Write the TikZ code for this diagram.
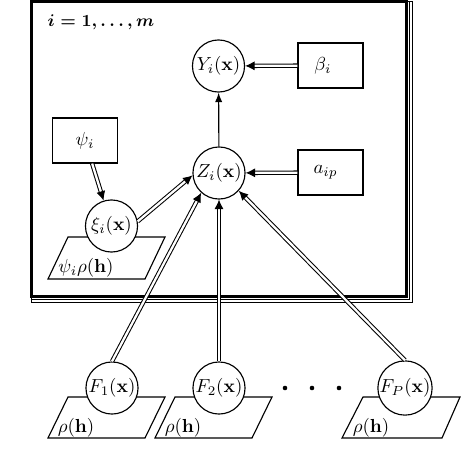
\documentclass[tikz,border=0pt]{standalone}
\usepackage{amsmath,amssymb}
\usetikzlibrary{arrows.meta}
\begin{document}
\begin{tikzpicture}[x=0.53pt,y=-0.53pt,
 every node/.style={font=\fontsize{10}{12}\selectfont},
 var/.style={circle,draw,fill=white,line width=0.6pt,minimum size=27.6pt,inner sep=0pt},
 parbox/.style={draw,line width=0.6pt,minimum width=34.5pt,minimum height=23.9pt,inner sep=0pt},
 dbl/.style={double,double distance=1.2pt,line width=0.55pt,-{Latex[length=5pt,width=4.8pt]}},
 sgl/.style={line width=0.6pt,-{Latex[length=5pt,width=3.8pt]}},
 plane/.style={draw,line width=0.6pt},
 plate/.style={draw,line width=1.2pt},
 plateedge/.style={draw,line width=0.5pt}]
\useasboundingbox (0,0) rectangle (474,470);
% plate
\draw[plate] (31.5,1.5) rectangle (406.5,296.5);
\draw[plateedge] (31.5,1.5) rectangle (409.5,299.5);
\draw[plateedge] (31.5,1.5) rectangle (412.5,302.5);
\node[font=\fontsize{9}{11}\selectfont] (plab) at (101,22) {$\boldsymbol{i=1,\ldots,m}$};
% planes
\draw[plane] (68,237) -- (165,237) -- (145,279) -- (48,279) -- cycle;
\draw[plane] (68,397) -- (165,397) -- (145,438) -- (48,438) -- cycle;
\draw[plane] (175,397) -- (272,397) -- (252,438) -- (155,438) -- cycle;
\draw[plane] (363,397) -- (460,397) -- (442,438) -- (342,438) -- cycle;
\node (l0) at (86,268) {$\psi_i\rho(\mathbf{h})$};
\node (l1) at (76,428) {$\rho(\mathbf{h})$};
\node (l2) at (183,428) {$\rho(\mathbf{h})$};
\node (l3) at (371,428) {$\rho(\mathbf{h})$};
% variables
\node[var] (Y) at (218.5,66) {$Y_i(\mathbf{x})$};
\node[var] (Z) at (219,173) {$Z_i(\mathbf{x})$};
\node[var] (xi) at (111.5,226) {$\xi_i(\mathbf{x})$};
\node[var] (F1) at (112,388) {$F_1(\mathbf{x})$};
\node[var] (F2) at (219,388) {$F_2(\mathbf{x})$};
\node[var] (FP) at (405,388) {$F_P(\mathbf{x})$};
% parameters
\node[parbox,text width=31pt,align=left] (beta) at (330.5,65.5) {\hspace{7pt}$\beta_i$};
\node[parbox] (psi) at (85,140.5) {$\psi_i$};
\node[parbox,text width=31pt,align=left] (a) at (330.5,172.5) {\hspace{6.5pt}$a_{ip}$};
% dots
\fill (285,388) circle (2.3);
\fill (312,388) circle (2.3);
\fill (339,388) circle (2.3);
% connectors
\draw[sgl] (Z) -- (Y);
\draw[dbl] (beta) -- (Y);
\draw[dbl] (a) -- (Z);
\draw[dbl] (psi) -- (xi);
\draw[dbl] (xi.10) -- (Z.185);
\draw[dbl] (F1.north) -- (Z.228);
\draw[dbl] (F2.north) -- (Z.south);
\draw[dbl] (FP.north) -- (Z.-42);
\end{tikzpicture}
\end{document}
